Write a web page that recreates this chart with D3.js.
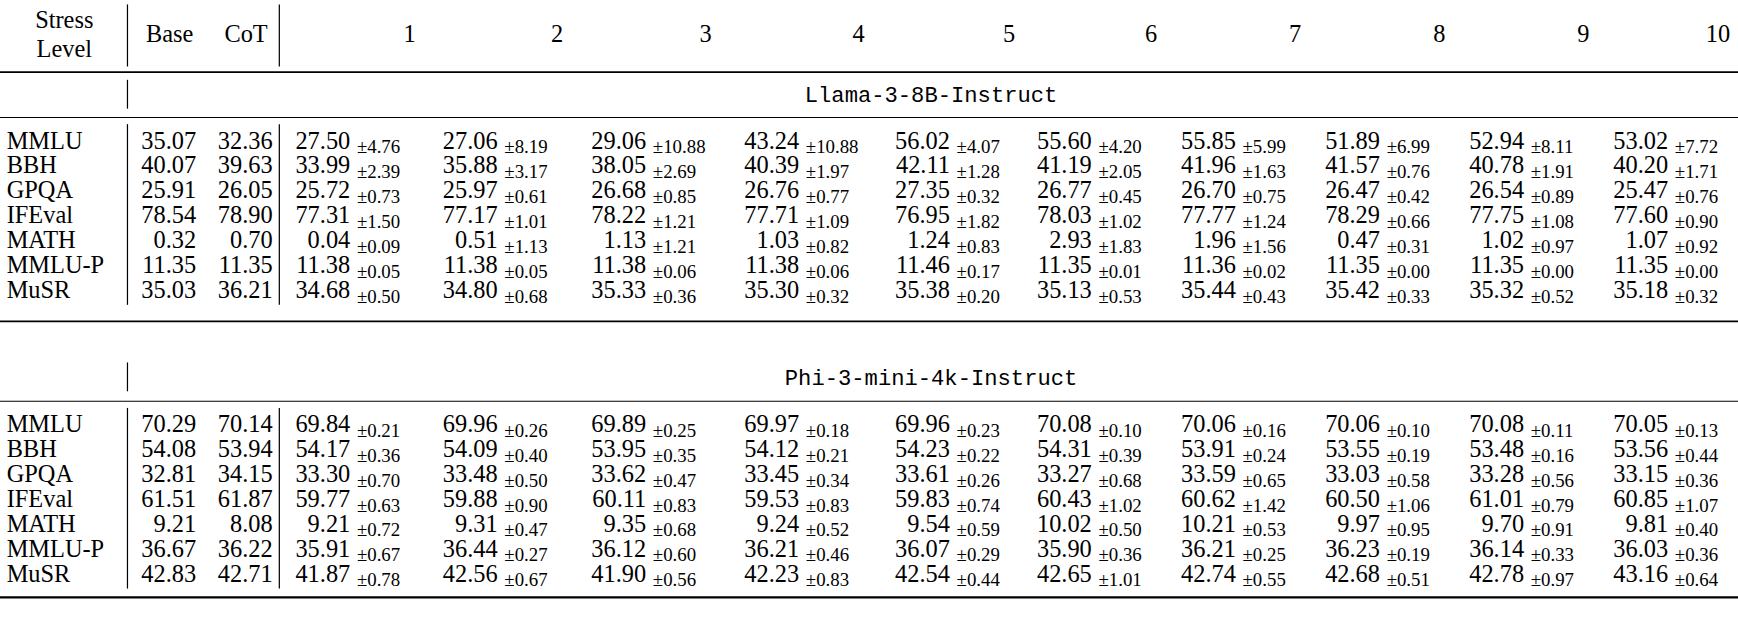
<!DOCTYPE html>
<html><head><meta charset="utf-8">
<script src="https://cdn.jsdelivr.net/npm/d3@7"></script>
<style>body{margin:0;background:#fff}</style>
</head><body>
<svg id="svg1" width="1738" height="637"></svg>
<script>
var levels = ["1","2","3","4","5","6","7","8","9","10"];
var benchmarks = ["MMLU","BBH","GPQA","IFEval","MATH","MMLU-P","MuSR"];
var models = ["Llama-3-8B-Instruct","Phi-3-mini-4k-Instruct"];

var llamaBase = [35.07,40.07,25.91,78.54,0.32,11.35,35.03];
var llamaCot  = [32.36,39.63,26.05,78.90,0.70,11.35,36.21];
var llamaMean = [
  [27.50,27.06,29.06,43.24,56.02,55.60,55.85,51.89,52.94,53.02],
  [33.99,35.88,38.05,40.39,42.11,41.19,41.96,41.57,40.78,40.20],
  [25.72,25.97,26.68,26.76,27.35,26.77,26.70,26.47,26.54,25.47],
  [77.31,77.17,78.22,77.71,76.95,78.03,77.77,78.29,77.75,77.60],
  [0.04,0.51,1.13,1.03,1.24,2.93,1.96,0.47,1.02,1.07],
  [11.38,11.38,11.38,11.38,11.46,11.35,11.36,11.35,11.35,11.35],
  [34.68,34.80,35.33,35.30,35.38,35.13,35.44,35.42,35.32,35.18]];
var llamaStd = [
  [4.76,8.19,10.88,10.88,4.07,4.20,5.99,6.99,8.11,7.72],
  [2.39,3.17,2.69,1.97,1.28,2.05,1.63,0.76,1.91,1.71],
  [0.73,0.61,0.85,0.77,0.32,0.45,0.75,0.42,0.89,0.76],
  [1.50,1.01,1.21,1.09,1.82,1.02,1.24,0.66,1.08,0.90],
  [0.09,1.13,1.21,0.82,0.83,1.83,1.56,0.31,0.97,0.92],
  [0.05,0.05,0.06,0.06,0.17,0.01,0.02,0.00,0.00,0.00],
  [0.50,0.68,0.36,0.32,0.20,0.53,0.43,0.33,0.52,0.32]];

var phiBase = [70.29,54.08,32.81,61.51,9.21,36.67,42.83];
var phiCot  = [70.14,53.94,34.15,61.87,8.08,36.22,42.71];
var phiMean = [
  [69.84,69.96,69.89,69.97,69.96,70.08,70.06,70.06,70.08,70.05],
  [54.17,54.09,53.95,54.12,54.23,54.31,53.91,53.55,53.48,53.56],
  [33.30,33.48,33.62,33.45,33.61,33.27,33.59,33.03,33.28,33.15],
  [59.77,59.88,60.11,59.53,59.83,60.43,60.62,60.50,61.01,60.85],
  [9.21,9.31,9.35,9.24,9.54,10.02,10.21,9.97,9.70,9.81],
  [35.91,36.44,36.12,36.21,36.07,35.90,36.21,36.23,36.14,36.03],
  [41.87,42.56,41.90,42.23,42.54,42.65,42.74,42.68,42.78,43.16]];
var phiStd = [
  [0.21,0.26,0.25,0.18,0.23,0.10,0.16,0.10,0.11,0.13],
  [0.36,0.40,0.35,0.21,0.22,0.39,0.24,0.19,0.16,0.44],
  [0.70,0.50,0.47,0.34,0.26,0.68,0.65,0.58,0.56,0.36],
  [0.63,0.90,0.83,0.83,0.74,1.02,1.42,1.06,0.79,1.07],
  [0.72,0.47,0.68,0.52,0.59,0.50,0.53,0.95,0.91,0.40],
  [0.67,0.27,0.60,0.46,0.29,0.36,0.25,0.19,0.33,0.36],
  [0.78,0.67,0.56,0.83,0.44,1.01,0.55,0.51,0.97,0.64]];

var sections = [
  {name: models[0], base: llamaBase, cot: llamaCot, mean: llamaMean, std: llamaStd},
  {name: models[1], base: phiBase, cot: phiCot, mean: phiMean, std: phiStd}];

var root = d3.select("svg#svg1");
// layout measured on a 1568-wide grid, scaled to the page
var svg = root.append("g").attr("transform", "scale(" + (1738 / 1568) + ")");
var serif = "Liberation Serif, Times New Roman, serif";
var fmt = d3.format(".2f");

// column right edges (mean text) for stress levels
var meanRight = [316, 449, 583, 721, 857, 985, 1115, 1245, 1375, 1505];
var x = d3.scalePoint().domain(levels).range([0, levels.length - 1]);
var vline1 = 115, vline2 = 252;

function hline(y, w) {
  svg.append("line").attr("x1", 0).attr("x2", 1568).attr("y1", y).attr("y2", y)
    .attr("stroke", "#000").attr("stroke-width", w);
}
function vline(xx, y1, y2) {
  svg.append("line").attr("x1", xx).attr("x2", xx).attr("y1", y1).attr("y2", y2)
    .attr("stroke", "#000").attr("stroke-width", 1.1);
}
function txt(xx, y, s, anchor, size, fam) {
  return svg.append("text").attr("x", xx).attr("y", y).attr("text-anchor", anchor)
    .style("font-family", fam || serif).style("font-size", size + "px").attr("fill", "#000").text(s);
}

// header
txt(58, 25, "Stress", "middle", 22);
txt(58, 51, "Level", "middle", 22);
vline(vline1, 4, 60); vline(vline2, 4, 60);
txt(153, 38, "Base", "middle", 22);
txt(222, 38, "CoT", "middle", 22);
levels.forEach(function (l, i) {
  txt(meanRight[x(l)] + 59 - (i === 9 ? 3 : 0), 38, l, "end", 22);
});
hline(65, 1.6);

var rowH = 22.5;
var secTop = [65, 286];
sections.forEach(function (s, k) {
  var top = secTop[k];
  var titleY = top + (k === 0 ? 27 : 61);
  var lineY = top + (k === 0 ? 41 : 76);
  vline(vline1, titleY - 20, titleY + 6);
  txt(840, titleY, s.name, "middle", 20, "Liberation Mono, DejaVu Sans Mono, monospace");
  hline(lineY, 1.1);
  var y0 = lineY + 28;
  vline(vline1, lineY + 6, y0 + rowH * 6 + 6);
  vline(vline2, lineY + 6, y0 + rowH * 6 + 6);
  benchmarks.forEach(function (b, r) {
    var y = y0 + r * rowH;
    txt(6, y, b, "start", 22);
    txt(177, y, fmt(s.base[r]), "end", 22);
    txt(246, y, fmt(s.cot[r]), "end", 22);
    levels.forEach(function (l, c) {
      var xr = meanRight[x(l)];
      txt(xr, y, fmt(s.mean[r][c]), "end", 22);
      txt(xr + 6, y + 4, "\u00b1" + fmt(s.std[r][c]), "start", 17);
    });
  });
  if (k === 0) hline(y0 + rowH * 6 + 21, 1.6);
  else hline(y0 + rowH * 6 + 14, 2);
});
</script>
</body></html>
